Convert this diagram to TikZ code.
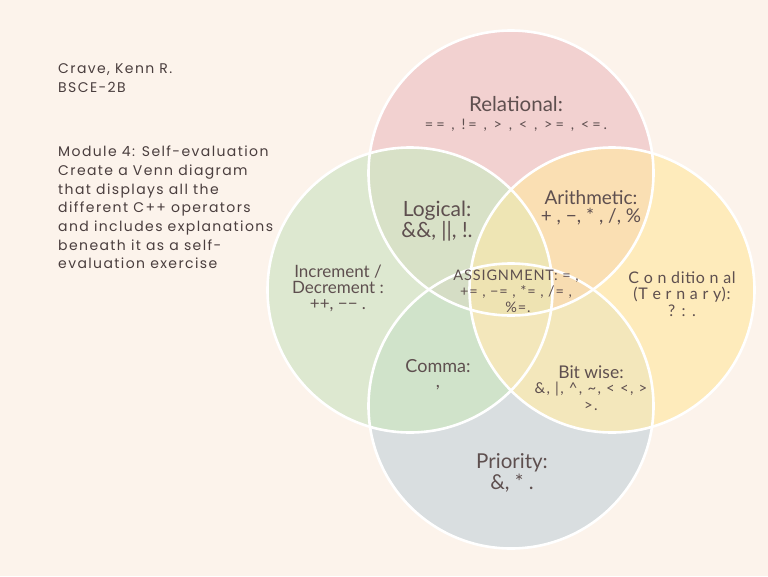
\documentclass[tikz,border=0pt]{standalone}
\usepackage{fontspec}
\setmainfont{Lato}
\newfontfamily\handfont[LetterSpace=10]{Poppins}
\newfontfamily\opsfont[LetterSpace=21]{Lato}
\newfontfamily\bitfont[LetterSpace=9]{Lato}
\newfontfamily\asgfont[LetterSpace=6]{Lato}
\newfontfamily\condfont[LetterSpace=4]{Lato}
\definecolor{bg}{HTML}{FCF3EB}
\definecolor{cpink}{HTML}{F2D1D0}
\definecolor{cgreen}{HTML}{DDE8D0}
\definecolor{cyellow}{HTML}{FEEBBB}
\definecolor{cgray}{HTML}{D9DEE0}
\definecolor{clogical}{HTML}{D8E1C7}
\definecolor{carith}{HTML}{FADFB3}
\definecolor{clr}{HTML}{EEE5B4}
\definecolor{ccomma}{HTML}{D0E3CA}
\definecolor{cbit}{HTML}{F3E7BB}
\definecolor{clensl}{HTML}{D5DDC5}
\definecolor{clensc}{HTML}{EEE3B2}
\definecolor{clensr}{HTML}{F7DCB1}
\definecolor{ctext}{HTML}{5E4F4F}
\definecolor{chand}{HTML}{4A3E3E}
\begin{document}
\begin{tikzpicture}[x=1pt,y=-1pt,
  lbl/.style={text=ctext, inner sep=0pt, anchor=center},
  hand/.style={text=chand, inner sep=0pt, anchor=base west, font=\handfont\fontsize{14}{18.7}\selectfont},
  border/.style={draw=white, line width=2.6pt}]
\def\rr{142.5}
\coordinate (T) at (511,173);
\coordinate (L) at (410,290);
\coordinate (R) at (612,290);
\coordinate (B) at (511,406);
\fill[bg] (0,0) rectangle (768,576);
\useasboundingbox (0,0) rectangle (768,576);
% single circles
\fill[cgray] (B) circle (\rr);
\fill[cpink] (T) circle (\rr);
\fill[cgreen] (L) circle (\rr);
\fill[cyellow] (R) circle (\rr);
% pair overlaps
\begin{scope}\clip (T) circle (\rr); \fill[clogical] (L) circle (\rr); \end{scope}
\begin{scope}\clip (T) circle (\rr); \fill[carith] (R) circle (\rr); \end{scope}
\begin{scope}\clip (L) circle (\rr); \fill[clr] (R) circle (\rr); \end{scope}
\begin{scope}\clip (B) circle (\rr); \fill[ccomma] (L) circle (\rr); \end{scope}
\begin{scope}\clip (B) circle (\rr); \fill[cbit] (R) circle (\rr); \end{scope}
% lens (top & bottom)
\begin{scope}\clip (T) circle (\rr); \clip (B) circle (\rr); \fill[clensl] (L) circle (\rr); \fill[clensr] (R) circle (\rr);
  \clip (L) circle (\rr); \fill[clensc] (R) circle (\rr); \end{scope}
% borders
\draw[border] (B) circle (\rr);
\draw[border] (T) circle (\rr);
\draw[border] (L) circle (\rr);
\draw[border] (R) circle (\rr);
% labels
\node[lbl, font=\fontsize{20.5}{22}\selectfont] (rel1) at (516,104) {Relational:};
\node[lbl, font=\opsfont\fontsize{14.5}{16}\selectfont] (rel2) at (516,125) {== , != , > , < , >= , <=.};
\node[lbl, font=\fontsize{21}{22}\selectfont] (log1) at (437,211) {Logical:};
\node[lbl, font=\fontsize{21}{22}\selectfont] (log2) at (437,231) {\&\&, ||, !.};
\node[lbl, font=\fontsize{19}{20}\selectfont] (ari1) at (591,198) {Arithmetic:};
\node[lbl, font=\fontsize{19}{20}\selectfont] (ari2) at (591,217) {+ , −, * , /, \%};
\node[lbl, align=center, anchor=base, font=\fontsize{17}{16}\selectfont] (inc) at (338,309.5) {Increment /\\Decrement :\\++, −− .};
\node[lbl, font=\condfont\fontsize{16}{18}\selectfont] (con1) at (682,278) {C o n ditio n al};
\node[lbl, font=\condfont\fontsize{16}{18}\selectfont] (con2) at (682,295) {(T e r n a r y):};
\node[lbl, font=\condfont\fontsize{16}{18}\selectfont] (con3) at (682,311) {? : .};
\node[lbl, font=\asgfont\fontsize{14.5}{16}\selectfont] (asg1) at (516,276) {ASSIGNMENT: = ,};
\node[lbl, font=\asgfont\fontsize{14.5}{16}\selectfont] (asg2) at (516,292) {+= , −= , *= , /= ,};
\node[lbl, font=\asgfont\fontsize{14.5}{16}\selectfont] (asg3) at (518,307) {\%=.};
\node[lbl, align=center, anchor=base, font=\fontsize{18}{14.5}\selectfont] (com) at (438,387) {Comma:\\,};
\node[lbl, font=\fontsize{17.5}{19}\selectfont] (bit1) at (591,372) {Bit wise:};
\node[lbl, font=\bitfont\fontsize{15}{18}\selectfont] (bit2) at (591,389) {\&, |, \^{}, \~{}, < <, >};
\node[lbl, font=\bitfont\fontsize{15}{18}\selectfont] (bit3) at (591,406) {>.};
\node[lbl, font=\fontsize{20.5}{22}\selectfont] (pri1) at (512,463) {Priority:};
\node[lbl, font=\fontsize{20.5}{22}\selectfont] (pri2) at (512,483) {\&, * .};
% left notes
\node[hand] (name1) at (58,73.3) {Crave, Kenn R.};
\node[hand] (name2) at (58,92.3) {BSCE-2B};
\node[hand] (task1) at (58,156.7) {Module 4: Self-evaluation};
\node[hand] (task2) at (58,175.4) {Create a Venn diagram};
\node[hand] (task3) at (58,194.1) {that displays all the};
\node[hand] (task4) at (58,212.8) {different C++ operators};
\node[hand] (task5) at (58,231.5) {and includes explanations};
\node[hand] (task6) at (58,250.2) {beneath it as a self-};
\node[hand] (task7) at (58,268.9) {evaluation exercise};
\end{tikzpicture}
\end{document}
